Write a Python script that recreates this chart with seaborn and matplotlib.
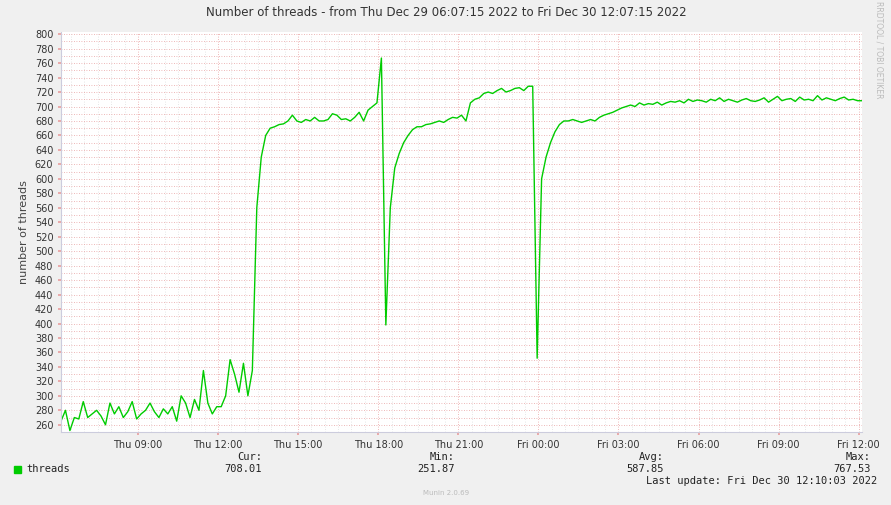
import numpy as np, pandas as pd, matplotlib
matplotlib.use("Agg")
import matplotlib.pyplot as plt, matplotlib.dates as mdates
import seaborn as sns

start = "2022-12-29 06:07:15"
step_minutes = 10
threads = [
 265,280,252,270,268,292, 270,275,280,272,260,290, 275,285,270,278,292,268,
 275,280,290,278,270,282, 275,285,265,300,290,270, 295,280,335,290,275,285,
 285,300,350,330,305,345, 300,335,560,630,660,670, 672,675,676,680,688,680,
 678,682,680,685,680,680, 682,690,688,682,683,680, 685,692,680,695,700,705,
 767,398,560,615,635,650, 660,668,672,672,675,676, 678,680,678,682,685,684,
 688,680,705,710,712,718, 720,718,722,725,720,722, 725,726,722,728,728,352,
 600,630,650,665,675,680, 680,682,680,678,680,682, 680,685,688,690,692,695,
 698,700,702,700,705,702, 704,703,706,702,705,707, 706,708,705,710,707,709,
 708,706,710,708,712,707, 710,708,706,709,711,708, 707,709,712,706,710,714,
 708,710,711,707,713,709, 710,708,715,709,712,710, 708,711,713,709,710,708, 708]
times = pd.date_range(start, periods=len(threads), freq=f"{step_minutes}min")
df = pd.DataFrame({"time": times, "threads": threads})
stats = {"Cur:": "708.01", "Min:": "251.87", "Avg:": "587.85", "Max:": "767.53"}

sns.set_theme(style="white")
fig = plt.figure(figsize=(8.91, 5.05), dpi=100, facecolor="#F0F0F0")
W, H = 891, 505
ax = fig.add_axes([61/W, 1-432/H, 801/W, 400/H])
ax.set_facecolor("white")
sns.lineplot(data=df, x="time", y="threads", ax=ax, color="#00CC00", linewidth=1)
ax.set_xlim(pd.Timestamp(start), pd.Timestamp("2022-12-30 12:07:15"))
ax.set_ylim(250, 803)
ax.set_yticks(np.arange(260, 801, 20))
ax.set_yticks(np.arange(250, 801, 10), minor=True)
ax.xaxis.set_major_locator(mdates.HourLocator(byhour=range(0, 24, 3)))
ax.xaxis.set_major_formatter(mdates.DateFormatter("%a %H:%M"))
ax.xaxis.set_minor_locator(mdates.MinuteLocator(byminute=[0, 30]))
ax.grid(which="minor", axis="x", color="#DDDDDD", linestyle=(0, (1, 2)), linewidth=0.6)
ax.grid(which="major", axis="x", color="#E8A0A0", linestyle=(0, (1, 2)), linewidth=0.6)
ax.grid(which="both", axis="y", color="#E8A0A0", linestyle=(0, (1, 2)), linewidth=0.6)
ax.tick_params(labelsize=7, colors="#333333", length=2)
ax.tick_params(axis="both", which="major", bottom=True, left=True, color="#E8A0A0")
ax.tick_params(axis="both", which="minor", bottom=False, left=False)
for s in ["top", "right"]:
    ax.spines[s].set_visible(False)
for s in ["left", "bottom"]:
    ax.spines[s].set_color("#CCCCDD"); ax.spines[s].set_linewidth(0.8)
ax.set_xlabel(""); ax.set_ylabel("number of threads", fontsize=8, color="#444444")
fig.text(446/W, 1-12/H, "Number of threads - from Thu Dec 29 06:07:15 2022 to Fri Dec 30 12:07:15 2022",
         ha="center", va="center", fontsize=8.5, color="#333333")
fig.text(879/W, 1-50/H, "RRDTOOL / TOBI OETIKER", rotation=270, ha="center", va="center",
         fontsize=5.5, color="#BBBBBB")
fig.patches.append(plt.Rectangle((14/W, 1-473/H), 7/W, 7/H, transform=fig.transFigure,
                                 color="#00CC00", figure=fig))
mono = "DejaVu Sans Mono"
fig.text(26/W, 1-469/H, "threads", fontsize=7.5, family=mono, va="center", color="#222222")
for (k, v), x in zip(stats.items(), [262, 455, 664, 871]):
    fig.text(x/W, 1-457/H, k, fontsize=7.5, family=mono, ha="right", va="center", color="#222222")
    fig.text(x/W, 1-469/H, v, fontsize=7.5, family=mono, ha="right", va="center", color="#222222")
fig.text(877/W, 1-481/H, "Last update: Fri Dec 30 12:10:03 2022", fontsize=7.5, family=mono,
         ha="right", va="center", color="#222222")
fig.text(446/W, 1-493/H, "Munin 2.0.69", fontsize=5, ha="center", va="center", color="#BBBBBB")
fig.savefig("out.png", dpi=100, facecolor=fig.get_facecolor())
